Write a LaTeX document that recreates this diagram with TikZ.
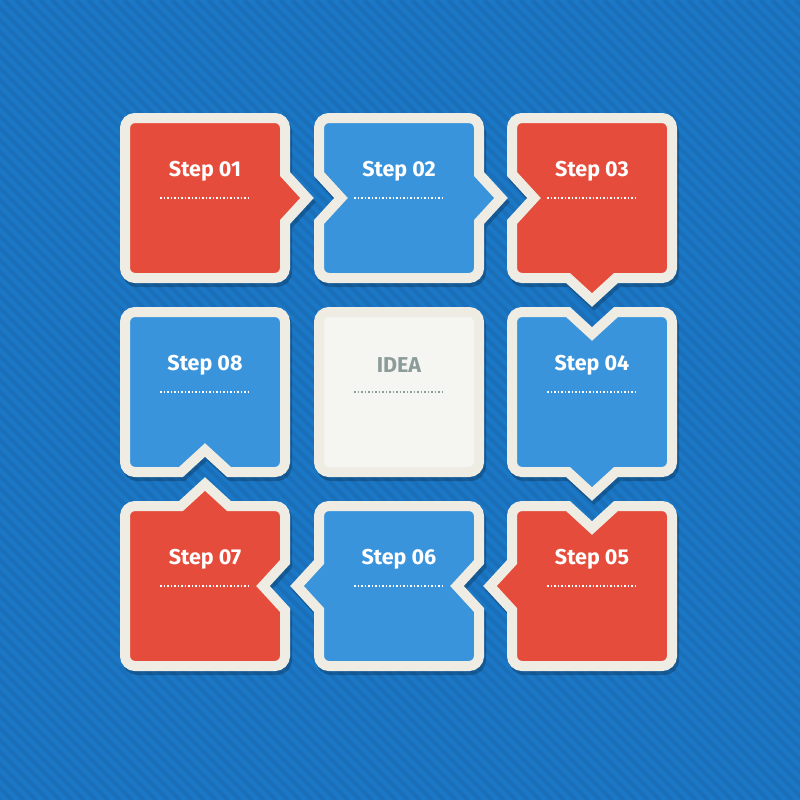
\documentclass[tikz,border=0pt]{standalone}
\usepackage{fontspec}
\setmainfont{Fira Sans}
\definecolor{bg}{HTML}{1B78C6}
\definecolor{stripe}{HTML}{1A6FB8}
\definecolor{red1}{HTML}{E64C3C}
\definecolor{blue1}{HTML}{3A94DC}
\definecolor{cream}{HTML}{EFEDE3}
\definecolor{idea}{HTML}{F5F5F2}
\definecolor{ideatxt}{HTML}{8C9C9A}
\def\Tt{-- (61,5) -- (85,-17) -- (109,5)}
\def\Tn{-- (61,5) -- (85,27) -- (109,5)}
\def\Rt{-- (165,61) -- (187,85) -- (165,109)}
\def\Rn{-- (165,61) -- (143,85) -- (165,109)}
\def\Bt{-- (109,165) -- (85,187) -- (61,165)}
\def\Bn{-- (109,165) -- (85,143) -- (61,165)}
\def\Lt{-- (5,109) -- (-17,85) -- (5,61)}
\def\Ln{-- (5,109) -- (27,85) -- (5,61)}
\def\none{}
\newcommand\mytile[9]{%
\begin{scope}[shift={(#1,#2)}]
\def\tp{(5,15) arc[start angle=180,end angle=270,radius=10] #4 -- (155,5) arc[start angle=270,end angle=360,radius=10] #5 -- (165,155) arc[start angle=0,end angle=90,radius=10] #6 -- (15,165) arc[start angle=90,end angle=180,radius=10] #7 -- cycle}
\path[fill=black,fill opacity=.22,draw=black,draw opacity=.22,line width=10pt,shift={(2,4)}] \tp;
\path[fill=#3,draw=cream,line width=10pt] \tp;
\node[font=\bfseries\fontsize{21.5}{22}\selectfont,text=#9] (n#8) at (85,58) {#8};
\draw[#9,line width=2pt,dash pattern=on 1.5pt off 2pt] (40,85) -- (130,85);
\end{scope}}
\begin{document}
\begin{tikzpicture}[x=1pt,y=-1pt]
\fill[bg] (0,0) rectangle (800,800);
\begin{scope}
\clip (0,0) rectangle (800,800);
\foreach \i in {-800,-788,...,800} {\draw[stripe,line width=4pt] (\i,0) -- (\i+800,800);}
\end{scope}
\useasboundingbox (0,0) rectangle (800,800);
\mytile{120}{113}{red1}{\none}{\Rt}{\none}{\none}{Step 01}{white}
\mytile{314}{113}{blue1}{\none}{\Rt}{\none}{\Ln}{Step 02}{white}
\mytile{507}{113}{red1}{\none}{\none}{\Bt}{\Ln}{Step 03}{white}
\mytile{507}{307}{blue1}{\Tn}{\none}{\Bt}{\none}{Step 04}{white}
\mytile{507}{501}{red1}{\Tn}{\none}{\none}{\Lt}{Step 05}{white}
\mytile{314}{501}{blue1}{\none}{\Rn}{\none}{\Lt}{Step 06}{white}
\mytile{120}{501}{red1}{\Tt}{\Rn}{\none}{\none}{Step 07}{white}
\mytile{120}{307}{blue1}{\none}{\none}{\Bn}{\none}{Step 08}{white}
\mytile{314}{307}{idea}{\none}{\none}{\none}{\none}{IDEA}{ideatxt}
\end{tikzpicture}
\end{document}
